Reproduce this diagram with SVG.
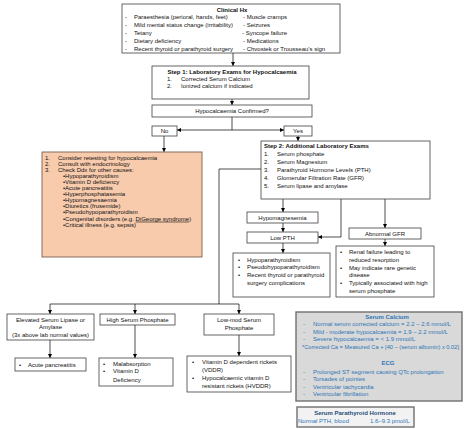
<svg xmlns="http://www.w3.org/2000/svg" width="474" height="429" viewBox="0 0 474 429">
<defs>
<marker id="ah" viewBox="0 0 6 6" refX="6" refY="3" markerWidth="4" markerHeight="4" orient="auto" markerUnits="userSpaceOnUse">
<path d="M0,0 L6,3 L0,6 z" fill="#000"/>
</marker>
<style>
text{font-family:"Liberation Sans",Arial,sans-serif;font-size:6px;fill:#111}
.b{font-weight:bold}
.c{text-anchor:middle}
.box{fill:#fff;stroke:#404040;stroke-width:0.8}
.org{fill:#f8cbad;stroke:#7a6050;stroke-width:0.9}
.gp{fill:#d9d9d9;stroke:#6f6f6f;stroke-width:1.4}
.pp{fill:#f2f2f2;stroke:#6f6f6f;stroke-width:1.4}
.bl{fill:#2e75b6}
.bt{fill:#2e75b6;font-weight:bold}
.db{fill:#1f4e79}
.ln{fill:none;stroke:#000;stroke-width:0.7}
.ar{fill:none;stroke:#000;stroke-width:0.7;marker-end:url(#ah)}
</style>
</defs>
<rect width="474" height="429" fill="#fff"/>

<g id="connectors">
<path class="ar" d="M233,53 V66"/>
<path class="ar" d="M232,99 V105"/>
<path class="ln" d="M232,117 V130"/>
<path class="ar" d="M232,130 H177"/>
<path class="ar" d="M232,130 H284"/>
<path class="ar" d="M164,136 V152"/>
<path class="ar" d="M298,136 V141"/>
<path class="ln" d="M261,169 H219 V304"/>
<path class="ar" d="M283,199 V212"/>
<path class="ar" d="M341,199 V237 H318"/>
<path class="ar" d="M385,199 V228"/>
<path class="ar" d="M283,223 V232"/>
<path class="ar" d="M283,243 V253"/>
<path class="ar" d="M385,239 V246"/>
<path class="ln" d="M50,304 H239"/>
<path class="ar" d="M50,304 V314"/>
<path class="ar" d="M135,304 V314"/>
<path class="ar" d="M239,304 V314"/>
<path class="ar" d="M50,340 V358"/>
<path class="ar" d="M135,325 V358"/>
<path class="ar" d="M239,335 V356"/>
</g>

<g id="clinical-hx">
<rect class="box" x="122" y="4" width="218" height="49"/>
<text class="b c" x="232" y="12">Clinical Hx</text>
<text x="125" y="19">-</text><text x="134" y="19">Paraesthesia (perioral, hands, feet)</text>
<text x="125" y="27">-</text><text x="134" y="27">Mild mental status change (irritability)</text>
<text x="125" y="35">-</text><text x="134" y="35">Tetany</text>
<text x="125" y="43">-</text><text x="134" y="43">Dietary deficiency</text>
<text x="125" y="51">-</text><text x="134" y="51">Recent thyroid or parathyroid surgery</text>
<text x="243" y="19">- Muscle cramps</text>
<text x="243" y="27">- Seizures</text>
<text x="242" y="35">- Syncope failure</text>
<text x="243" y="43">- Medications</text>
<text x="243" y="51">- Chvostek or Trousseau's sign</text>
</g>

<g id="step1">
<rect class="box" x="152" y="66" width="157" height="33"/>
<text class="b c" x="232" y="74">Step 1: Laboratory Exams for Hypocalcaemia</text>
<text x="167" y="81">1.</text><text x="181" y="81">Corrected Serum Calcium</text>
<text x="167" y="88">2.</text><text x="181" y="88">Ionized calcium if indicated</text>
</g>

<g id="confirmed">
<rect class="box" x="152" y="105" width="160" height="12"/>
<text class="c" x="232" y="113">Hypocalcaemia Confirmed?</text>
</g>

<g id="no">
<rect class="box" x="152" y="126" width="25" height="10"/>
<text class="c" x="164.5" y="133.2">No</text>
</g>

<g id="yes">
<rect class="box" x="284" y="126" width="28" height="10"/>
<text class="c" x="298" y="133.2">Yes</text>
</g>

<g id="no-actions">
<rect class="org" x="42" y="152" width="160" height="105"/>
<text x="45" y="159.5">1.</text><text x="58" y="159.5">Consider retesting for hypocalcaemia</text>
<text x="45" y="165.5">2.</text><text x="58" y="165.5">Consult with endocrinology</text>
<text x="45" y="171.5">3.</text><text x="58" y="171.5">Check Ddx for other causes:</text>
<text x="63" y="177.8">•Hypoparathyroidism</text>
<text x="63" y="183.9">•Vitamin D deficiency</text>
<text x="63" y="190">•Acute pancreatitis</text>
<text x="63" y="196.1">•Hyperphosphatasemia</text>
<text x="63" y="202.2">•Hypomagnesaemia</text>
<text x="63" y="208.3">•Diuretics (frusemide)</text>
<text x="63" y="214.4">•Pseudohypoparathyroidism</text>
<text x="63" y="220.7">•Congenital disorders (e.g. <tspan text-decoration="underline">DiGeorge syndrome</tspan>)</text>
<text x="63" y="227">•Critical illness (e.g. sepsis)</text>
</g>

<g id="step2">
<rect class="box" x="261" y="141" width="169" height="58"/>
<text class="b" x="264" y="148">Step 2: Additional Laboratory Exams</text>
<text x="264" y="156">1.</text><text x="277" y="156">Serum phosphate</text>
<text x="264" y="164">2.</text><text x="277" y="164">Serum Magnesium</text>
<text x="264" y="172">3.</text><text x="277" y="172">Parathyroid Hormone Levels (PTH)</text>
<text x="264" y="180">4.</text><text x="277" y="180">Glomerular Filtration Rate (GFR)</text>
<text x="264" y="188">5.</text><text x="277" y="188">Serum lipase and amylase</text>
</g>

<g id="hypomagnesemia">
<rect class="box" x="247" y="212" width="71" height="11"/>
<text class="c" x="282.5" y="219.7">Hypomagnesemia</text>
</g>

<g id="low-pth">
<rect class="box" x="247" y="232" width="71" height="11"/>
<text class="c" x="282.5" y="239.7">Low PTH</text>
</g>

<g id="low-pth-causes">
<rect class="box" x="233" y="253" width="97" height="44"/>
<text x="238" y="261.5">•</text><text x="247" y="261.5">Hypoparathyroidism</text>
<text x="238" y="269">•</text><text x="247" y="269">Pseudohypoparathyroidism</text>
<text x="238" y="277">•</text><text x="247" y="277">Recent thyroid or parathyroid</text>
<text x="247" y="285">surgery complications</text>
</g>

<g id="abnormal-gfr">
<rect class="box" x="349" y="228" width="72" height="11"/>
<text class="c" x="385" y="235.7">Abnormal GFR</text>
</g>

<g id="gfr-notes">
<rect class="box" x="336" y="246" width="98" height="51"/>
<text x="340" y="254">•</text><text x="349" y="254">Renal failure leading to</text>
<text x="349" y="261.5">reduced resorption</text>
<text x="340" y="270">•</text><text x="349" y="270">May indicate rare genetic</text>
<text x="349" y="277">disease</text>
<text x="340" y="285">•</text><text x="349" y="285">Typically associated with high</text>
<text x="349" y="292.5">serum phosphate</text>
</g>

<g id="elevated-lipase">
<rect class="box" x="7" y="314" width="87" height="26"/>
<text class="c" x="50.5" y="321.5">Elevated Serum Lipase or</text>
<text class="c" x="50.5" y="329">Amylase</text>
<text class="c" x="50.5" y="336.5">(3x above lab normal values)</text>
</g>

<g id="high-phosphate">
<rect class="box" x="100" y="314" width="75" height="11"/>
<text class="c" x="137.5" y="321.7">High Serum Phosphate</text>
</g>

<g id="lowmod-phosphate">
<rect class="box" x="204" y="314" width="70" height="21"/>
<text class="c" x="239" y="321.5">Low-mod Serum</text>
<text class="c" x="239" y="329.7">Phosphate</text>
</g>

<g id="acute-pancreatitis">
<rect class="box" x="15" y="358" width="71" height="13"/>
<text x="19" y="366.5">•</text><text x="28" y="366.5">Acute pancreatitis</text>
</g>

<g id="malabsorption">
<rect class="box" x="99" y="358" width="74" height="28"/>
<text x="103" y="365.5">•</text><text x="113" y="365.5">Malabsorption</text>
<text x="103" y="373">•</text><text x="113" y="373">Vitamin D</text>
<text x="113" y="381.5">Deficiency</text>
</g>

<g id="rickets">
<rect class="box" x="187" y="356" width="104" height="36"/>
<text x="192" y="364">•</text><text x="202" y="364">Vitamin D dependent rickets</text>
<text x="202" y="371.5">(VDDR)</text>
<text x="192" y="380">•</text><text x="202" y="380">Hypocalcaemic vitamin D</text>
<text x="202" y="388">resistant rickets (HVDDR)</text>
</g>

<g id="reference-panel">
<rect class="gp" x="296" y="312" width="166" height="89"/>
<text class="bt c" x="387" y="318.5">Serum Calcium</text>
<text class="bl" x="303" y="326">-</text><text class="bl" x="313" y="326">Normal serum corrected calcium = 2.2 – 2.6 mmol/L</text>
<text class="bl" x="303" y="333.5">-</text><text class="bl" x="313" y="333.5">Mild - moderate hypocalcaemia = 1.9 – 2.2 mmol/L</text>
<text class="bl" x="303" y="340.5">-</text><text class="bl" x="313" y="340.5">Severe hypocalcaemia = &lt; 1.9 mmol/L</text>
<text class="bl" x="302" y="348.5" textLength="157" lengthAdjust="spacingAndGlyphs">*Corrected Ca = Measured Ca + [40 – (serum albumin) x 0.02]</text>
<text class="bt c" x="388" y="365">ECG</text>
<text class="bl" x="303" y="373.5">-</text><text class="bl" x="313" y="373.5">Prolonged ST segment causing QTc prolongation</text>
<text class="bl" x="303" y="381">-</text><text class="bl" x="313" y="381">Torsades of pointes</text>
<text class="bl" x="303" y="388.5">-</text><text class="bl" x="313" y="388.5">Ventricular tachycardia</text>
<text class="bl" x="303" y="396">-</text><text class="bl" x="313" y="396">Ventricular fibrillation</text>
</g>

<g id="pth-panel">
<rect class="pp" x="297" y="407" width="117" height="20"/>
<text class="db b c" x="355" y="414.5">Serum Parathyroid Hormone</text>
<text class="bl" x="298" y="422.5">Normal PTH, blood</text>
<text class="bl" x="370" y="422.5">1.6–9.3 pmol/L</text>
</g>
</svg>
